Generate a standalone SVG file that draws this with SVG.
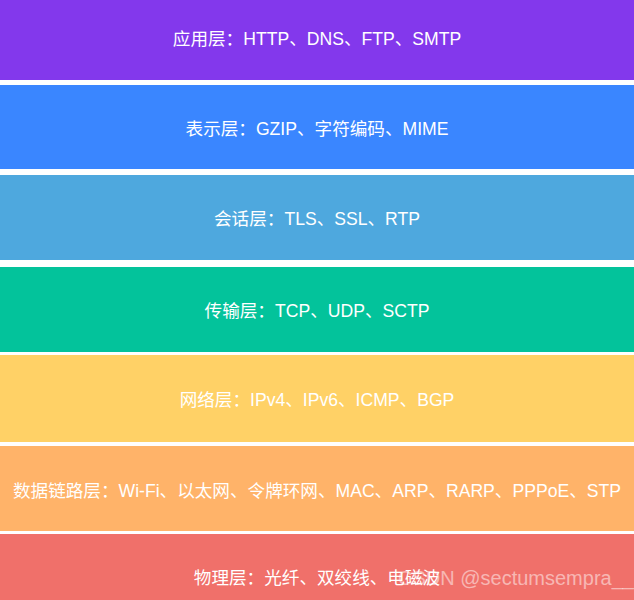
<svg xmlns="http://www.w3.org/2000/svg" width="634" height="600" viewBox="0 0 634 600">
<style>
.lbl{font-family:"Liberation Sans","Noto Sans CJK SC",sans-serif;font-size:17.6px;fill:#fff;text-anchor:middle;dominant-baseline:central}
.wm{font-family:"Liberation Sans","Noto Sans CJK SC",sans-serif;font-size:20px;fill:#ffffff;fill-opacity:0.5}
</style>
<rect x="0" y="0" width="634" height="600" fill="#ffffff"/>
<g id="app"><rect x="0" y="0" width="634" height="80" fill="#8338EC"/><text class="lbl" x="317" y="39">应用层：HTTP、DNS、FTP、SMTP</text></g>
<g id="presentation"><rect x="0" y="85" width="634" height="84" fill="#3A86FF"/><text class="lbl" x="317" y="129">表示层：GZIP、字符编码、MIME</text></g>
<g id="session"><rect x="0" y="175" width="634" height="85" fill="#4EA8DE"/><text class="lbl" x="317" y="219">会话层：TLS、SSL、RTP</text></g>
<g id="transport"><rect x="0" y="267" width="634" height="85" fill="#03C39B"/><text class="lbl" x="317" y="311">传输层：TCP、UDP、SCTP</text></g>
<g id="network"><rect x="0" y="355" width="634" height="87" fill="#FFD166"/><text class="lbl" x="317" y="400">网络层：IPv4、IPv6、ICMP、BGP</text></g>
<g id="datalink"><rect x="0" y="446" width="634" height="85" fill="#FFB369"/><text class="lbl" x="317" y="491">数据链路层：Wi-Fi、以太网、令牌环网、MAC、ARP、RARP、PPPoE、STP</text></g>
<g id="physical"><rect x="0" y="534" width="634" height="66" fill="#F0706A"/><text class="lbl" x="317" y="578">物理层：光纤、双绞线、电磁波</text></g>
<g id="connectors"></g>
<text class="wm" x="398" y="585">CSDN @sectumsempra__</text>
</svg>
